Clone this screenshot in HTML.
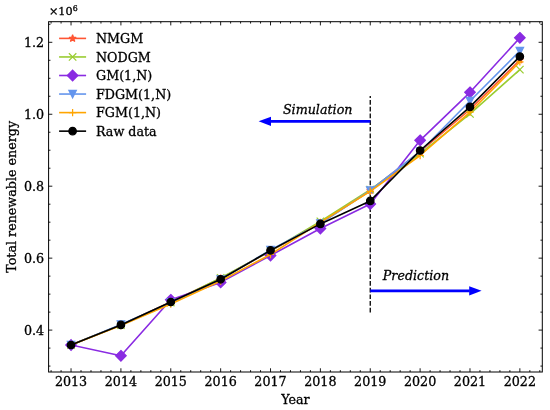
<!DOCTYPE html>
<html><head><meta charset="utf-8"><style>
html,body{margin:0;padding:0;background:#fff;}
body{width:550px;height:410px;overflow:hidden;}
svg{display:block;}
text{font-family:"DejaVu Serif","Liberation Serif",serif;stroke:#000;stroke-width:0.3px;}
</style></head><body>
<svg width="550" height="410" viewBox="0 0 550 410">
<rect width="550" height="410" fill="#ffffff"/>
<defs><clipPath id="ax"><rect x="48.6" y="21.7" width="493.7" height="350.3"/></clipPath></defs>
<path d="M370.25 312.5L370.25 95.9" stroke="#000" stroke-width="1.3" stroke-dasharray="4.68 2.02" fill="none"/>
<g clip-path="url(#ax)">
<polyline points="71.04,345 120.91,325 170.78,302 220.65,278.5 270.52,251 320.38,223 370.25,190.5 420.12,151.7 469.99,109.5 519.86,60" fill="none" stroke="#FF5533" stroke-width="1.6" stroke-linejoin="round" stroke-linecap="square"/>
<polygon points="71.04,341.28 70.21,343.85 67.5,343.85 69.69,345.44 68.85,348.01 71.04,346.42 73.23,348.01 72.39,345.44 74.58,343.85 71.88,343.85" fill="#FF5533" stroke="#FF5533" stroke-width="1.24" stroke-linejoin="bevel"/>
<polygon points="120.91,321.28 120.07,323.85 117.37,323.85 119.56,325.44 118.72,328.01 120.91,326.42 123.1,328.01 122.26,325.44 124.45,323.85 121.74,323.85" fill="#FF5533" stroke="#FF5533" stroke-width="1.24" stroke-linejoin="bevel"/>
<polygon points="170.78,298.28 169.94,300.85 167.24,300.85 169.43,302.44 168.59,305.01 170.78,303.42 172.96,305.01 172.13,302.44 174.32,300.85 171.61,300.85" fill="#FF5533" stroke="#FF5533" stroke-width="1.24" stroke-linejoin="bevel"/>
<polygon points="220.65,274.78 219.81,277.35 217.11,277.35 219.3,278.94 218.46,281.51 220.65,279.92 222.83,281.51 222,278.94 224.18,277.35 221.48,277.35" fill="#FF5533" stroke="#FF5533" stroke-width="1.24" stroke-linejoin="bevel"/>
<polygon points="270.52,247.28 269.68,249.85 266.98,249.85 269.16,251.44 268.33,254.01 270.52,252.42 272.7,254.01 271.87,251.44 274.05,249.85 271.35,249.85" fill="#FF5533" stroke="#FF5533" stroke-width="1.24" stroke-linejoin="bevel"/>
<polygon points="320.38,219.28 319.55,221.85 316.85,221.85 319.03,223.44 318.2,226.01 320.38,224.42 322.57,226.01 321.74,223.44 323.92,221.85 321.22,221.85" fill="#FF5533" stroke="#FF5533" stroke-width="1.24" stroke-linejoin="bevel"/>
<polygon points="370.25,186.78 369.42,189.35 366.72,189.35 368.9,190.94 368.07,193.51 370.25,191.92 372.44,193.51 371.6,190.94 373.79,189.35 371.09,189.35" fill="#FF5533" stroke="#FF5533" stroke-width="1.24" stroke-linejoin="bevel"/>
<polygon points="420.12,147.98 419.29,150.55 416.58,150.55 418.77,152.14 417.94,154.71 420.12,153.12 422.31,154.71 421.47,152.14 423.66,150.55 420.96,150.55" fill="#FF5533" stroke="#FF5533" stroke-width="1.24" stroke-linejoin="bevel"/>
<polygon points="469.99,105.78 469.16,108.35 466.45,108.35 468.64,109.94 467.8,112.51 469.99,110.92 472.18,112.51 471.34,109.94 473.53,108.35 470.83,108.35" fill="#FF5533" stroke="#FF5533" stroke-width="1.24" stroke-linejoin="bevel"/>
<polygon points="519.86,56.28 519.02,58.85 516.32,58.85 518.51,60.44 517.67,63.01 519.86,61.42 522.05,63.01 521.21,60.44 523.4,58.85 520.69,58.85" fill="#FF5533" stroke="#FF5533" stroke-width="1.24" stroke-linejoin="bevel"/>
<polyline points="71.04,345 120.91,325 170.78,302.5 220.65,278 270.52,251 320.38,221.4 370.25,189.6 420.12,153.7 469.99,113.9 519.86,69.6" fill="none" stroke="#9ACD32" stroke-width="1.6" stroke-linejoin="round" stroke-linecap="square"/>
<path d="M67.32 341.28L74.76 348.72M67.32 348.72L74.76 341.28" stroke="#9ACD32" stroke-width="1.24" fill="none"/>
<path d="M117.19 321.28L124.63 328.72M117.19 328.72L124.63 321.28" stroke="#9ACD32" stroke-width="1.24" fill="none"/>
<path d="M167.06 298.78L174.5 306.22M167.06 306.22L174.5 298.78" stroke="#9ACD32" stroke-width="1.24" fill="none"/>
<path d="M216.93 274.28L224.37 281.72M216.93 281.72L224.37 274.28" stroke="#9ACD32" stroke-width="1.24" fill="none"/>
<path d="M266.8 247.28L274.24 254.72M266.8 254.72L274.24 247.28" stroke="#9ACD32" stroke-width="1.24" fill="none"/>
<path d="M316.66 217.68L324.1 225.12M316.66 225.12L324.1 217.68" stroke="#9ACD32" stroke-width="1.24" fill="none"/>
<path d="M366.53 185.88L373.97 193.32M366.53 193.32L373.97 185.88" stroke="#9ACD32" stroke-width="1.24" fill="none"/>
<path d="M416.4 149.98L423.84 157.42M416.4 157.42L423.84 149.98" stroke="#9ACD32" stroke-width="1.24" fill="none"/>
<path d="M466.27 110.18L473.71 117.62M466.27 117.62L473.71 110.18" stroke="#9ACD32" stroke-width="1.24" fill="none"/>
<path d="M516.14 65.88L523.58 73.32M516.14 73.32L523.58 65.88" stroke="#9ACD32" stroke-width="1.24" fill="none"/>
<polyline points="71.04,345 120.91,355.8 170.78,299.8 220.65,282.4 270.52,255.5 320.38,228.5 370.25,204 420.12,140.3 469.99,92.3 519.86,37.8" fill="none" stroke="#8A2BE2" stroke-width="1.6" stroke-linejoin="round" stroke-linecap="square"/>
<polygon points="71.04,339.74 76.3,345 71.04,350.26 65.78,345" fill="#8A2BE2" stroke="#8A2BE2" stroke-width="1.24" stroke-linejoin="miter"/>
<polygon points="120.91,350.54 126.17,355.8 120.91,361.06 115.65,355.8" fill="#8A2BE2" stroke="#8A2BE2" stroke-width="1.24" stroke-linejoin="miter"/>
<polygon points="170.78,294.54 176.04,299.8 170.78,305.06 165.52,299.8" fill="#8A2BE2" stroke="#8A2BE2" stroke-width="1.24" stroke-linejoin="miter"/>
<polygon points="220.65,277.14 225.91,282.4 220.65,287.66 215.39,282.4" fill="#8A2BE2" stroke="#8A2BE2" stroke-width="1.24" stroke-linejoin="miter"/>
<polygon points="270.52,250.24 275.78,255.5 270.52,260.76 265.25,255.5" fill="#8A2BE2" stroke="#8A2BE2" stroke-width="1.24" stroke-linejoin="miter"/>
<polygon points="320.38,223.24 325.65,228.5 320.38,233.76 315.12,228.5" fill="#8A2BE2" stroke="#8A2BE2" stroke-width="1.24" stroke-linejoin="miter"/>
<polygon points="370.25,198.74 375.51,204 370.25,209.26 364.99,204" fill="#8A2BE2" stroke="#8A2BE2" stroke-width="1.24" stroke-linejoin="miter"/>
<polygon points="420.12,135.04 425.38,140.3 420.12,145.56 414.86,140.3" fill="#8A2BE2" stroke="#8A2BE2" stroke-width="1.24" stroke-linejoin="miter"/>
<polygon points="469.99,87.04 475.25,92.3 469.99,97.56 464.73,92.3" fill="#8A2BE2" stroke="#8A2BE2" stroke-width="1.24" stroke-linejoin="miter"/>
<polygon points="519.86,32.54 525.12,37.8 519.86,43.06 514.6,37.8" fill="#8A2BE2" stroke="#8A2BE2" stroke-width="1.24" stroke-linejoin="miter"/>
<polyline points="71.04,345 120.91,324.5 170.78,302.5 220.65,279.5 270.52,250 320.38,223.5 370.25,190.5 420.12,151.5 469.99,101 519.86,51" fill="none" stroke="#6495ED" stroke-width="1.6" stroke-linejoin="round" stroke-linecap="square"/>
<polygon points="67.32,341.28 74.76,341.28 71.04,348.72" fill="#6495ED" stroke="#6495ED" stroke-width="1.24" stroke-linejoin="miter"/>
<polygon points="117.19,320.78 124.63,320.78 120.91,328.22" fill="#6495ED" stroke="#6495ED" stroke-width="1.24" stroke-linejoin="miter"/>
<polygon points="167.06,298.78 174.5,298.78 170.78,306.22" fill="#6495ED" stroke="#6495ED" stroke-width="1.24" stroke-linejoin="miter"/>
<polygon points="216.93,275.78 224.37,275.78 220.65,283.22" fill="#6495ED" stroke="#6495ED" stroke-width="1.24" stroke-linejoin="miter"/>
<polygon points="266.8,246.28 274.24,246.28 270.52,253.72" fill="#6495ED" stroke="#6495ED" stroke-width="1.24" stroke-linejoin="miter"/>
<polygon points="316.66,219.78 324.1,219.78 320.38,227.22" fill="#6495ED" stroke="#6495ED" stroke-width="1.24" stroke-linejoin="miter"/>
<polygon points="366.53,186.78 373.97,186.78 370.25,194.22" fill="#6495ED" stroke="#6495ED" stroke-width="1.24" stroke-linejoin="miter"/>
<polygon points="416.4,147.78 423.84,147.78 420.12,155.22" fill="#6495ED" stroke="#6495ED" stroke-width="1.24" stroke-linejoin="miter"/>
<polygon points="466.27,97.28 473.71,97.28 469.99,104.72" fill="#6495ED" stroke="#6495ED" stroke-width="1.24" stroke-linejoin="miter"/>
<polygon points="516.14,47.28 523.58,47.28 519.86,54.72" fill="#6495ED" stroke="#6495ED" stroke-width="1.24" stroke-linejoin="miter"/>
<polyline points="71.04,345 120.91,325.5 170.78,304 220.65,281 270.52,254.5 320.38,222.4 370.25,191.3 420.12,155.5 469.99,112.2 519.86,61.8" fill="none" stroke="#FFA500" stroke-width="1.6" stroke-linejoin="round" stroke-linecap="square"/>
<path d="M67.32 345L74.76 345M71.04 341.28L71.04 348.72" stroke="#FFA500" stroke-width="1.24" fill="none"/>
<path d="M117.19 325.5L124.63 325.5M120.91 321.78L120.91 329.22" stroke="#FFA500" stroke-width="1.24" fill="none"/>
<path d="M167.06 304L174.5 304M170.78 300.28L170.78 307.72" stroke="#FFA500" stroke-width="1.24" fill="none"/>
<path d="M216.93 281L224.37 281M220.65 277.28L220.65 284.72" stroke="#FFA500" stroke-width="1.24" fill="none"/>
<path d="M266.8 254.5L274.24 254.5M270.52 250.78L270.52 258.22" stroke="#FFA500" stroke-width="1.24" fill="none"/>
<path d="M316.66 222.4L324.1 222.4M320.38 218.68L320.38 226.12" stroke="#FFA500" stroke-width="1.24" fill="none"/>
<path d="M366.53 191.3L373.97 191.3M370.25 187.58L370.25 195.02" stroke="#FFA500" stroke-width="1.24" fill="none"/>
<path d="M416.4 155.5L423.84 155.5M420.12 151.78L420.12 159.22" stroke="#FFA500" stroke-width="1.24" fill="none"/>
<path d="M466.27 112.2L473.71 112.2M469.99 108.48L469.99 115.92" stroke="#FFA500" stroke-width="1.24" fill="none"/>
<path d="M516.14 61.8L523.58 61.8M519.86 58.08L519.86 65.52" stroke="#FFA500" stroke-width="1.24" fill="none"/>
<polyline points="71.04,345 120.91,324.9 170.78,302 220.65,279.3 270.52,250.4 320.38,223.9 370.25,200.9 420.12,150.5 469.99,106.9 519.86,56.5" fill="none" stroke="#000000" stroke-width="1.6" stroke-linejoin="round" stroke-linecap="square"/>
<circle cx="71.04" cy="345" r="3.72" fill="#000000" stroke="#000000" stroke-width="1.24"/>
<circle cx="120.91" cy="324.9" r="3.72" fill="#000000" stroke="#000000" stroke-width="1.24"/>
<circle cx="170.78" cy="302" r="3.72" fill="#000000" stroke="#000000" stroke-width="1.24"/>
<circle cx="220.65" cy="279.3" r="3.72" fill="#000000" stroke="#000000" stroke-width="1.24"/>
<circle cx="270.52" cy="250.4" r="3.72" fill="#000000" stroke="#000000" stroke-width="1.24"/>
<circle cx="320.38" cy="223.9" r="3.72" fill="#000000" stroke="#000000" stroke-width="1.24"/>
<circle cx="370.25" cy="200.9" r="3.72" fill="#000000" stroke="#000000" stroke-width="1.24"/>
<circle cx="420.12" cy="150.5" r="3.72" fill="#000000" stroke="#000000" stroke-width="1.24"/>
<circle cx="469.99" cy="106.9" r="3.72" fill="#000000" stroke="#000000" stroke-width="1.24"/>
<circle cx="519.86" cy="56.5" r="3.72" fill="#000000" stroke="#000000" stroke-width="1.24"/>
</g>
<path d="M370.25 121.35L270.5 121.35" stroke="#0000FF" stroke-width="2.7" fill="none"/><polygon points="258.6,121.35 271,116.65 271,126.05" fill="#0000FF"/>
<path d="M370.25 290.85L469.7 290.85" stroke="#0000FF" stroke-width="2.7" fill="none"/><polygon points="481.6,290.85 469.2,286.15 469.2,295.55" fill="#0000FF"/>
<text x="317.7" y="114.1" font-family="DejaVu Serif" font-style="italic" font-size="12.7" text-anchor="middle">Simulation</text>
<text x="416" y="279.7" font-family="DejaVu Serif" font-style="italic" font-size="12.7" text-anchor="middle">Prediction</text>
<rect x="48.6" y="21.7" width="493.7" height="350.3" fill="none" stroke="#000" stroke-width="1"/>
<path d="M51.09 372v-1.86M51.09 21.7v1.86M61.07 372v-1.86M61.07 21.7v1.86M71.04 372v-3.72M71.04 21.7v3.72M81.01 372v-1.86M81.01 21.7v1.86M90.99 372v-1.86M90.99 21.7v1.86M100.96 372v-1.86M100.96 21.7v1.86M110.94 372v-1.86M110.94 21.7v1.86M120.91 372v-3.72M120.91 21.7v3.72M130.88 372v-1.86M130.88 21.7v1.86M140.86 372v-1.86M140.86 21.7v1.86M150.83 372v-1.86M150.83 21.7v1.86M160.8 372v-1.86M160.8 21.7v1.86M170.78 372v-3.72M170.78 21.7v3.72M180.75 372v-1.86M180.75 21.7v1.86M190.73 372v-1.86M190.73 21.7v1.86M200.7 372v-1.86M200.7 21.7v1.86M210.67 372v-1.86M210.67 21.7v1.86M220.65 372v-3.72M220.65 21.7v3.72M230.62 372v-1.86M230.62 21.7v1.86M240.59 372v-1.86M240.59 21.7v1.86M250.57 372v-1.86M250.57 21.7v1.86M260.54 372v-1.86M260.54 21.7v1.86M270.52 372v-3.72M270.52 21.7v3.72M280.49 372v-1.86M280.49 21.7v1.86M290.46 372v-1.86M290.46 21.7v1.86M300.44 372v-1.86M300.44 21.7v1.86M310.41 372v-1.86M310.41 21.7v1.86M320.38 372v-3.72M320.38 21.7v3.72M330.36 372v-1.86M330.36 21.7v1.86M340.33 372v-1.86M340.33 21.7v1.86M350.31 372v-1.86M350.31 21.7v1.86M360.28 372v-1.86M360.28 21.7v1.86M370.25 372v-3.72M370.25 21.7v3.72M380.23 372v-1.86M380.23 21.7v1.86M390.2 372v-1.86M390.2 21.7v1.86M400.17 372v-1.86M400.17 21.7v1.86M410.15 372v-1.86M410.15 21.7v1.86M420.12 372v-3.72M420.12 21.7v3.72M430.1 372v-1.86M430.1 21.7v1.86M440.07 372v-1.86M440.07 21.7v1.86M450.04 372v-1.86M450.04 21.7v1.86M460.02 372v-1.86M460.02 21.7v1.86M469.99 372v-3.72M469.99 21.7v3.72M479.96 372v-1.86M479.96 21.7v1.86M489.94 372v-1.86M489.94 21.7v1.86M499.91 372v-1.86M499.91 21.7v1.86M509.89 372v-1.86M509.89 21.7v1.86M519.86 372v-3.72M519.86 21.7v3.72M529.83 372v-1.86M529.83 21.7v1.86M539.81 372v-1.86M539.81 21.7v1.86M48.6 366.08h1.86M542.3 366.08h-1.86M48.6 348.09h1.86M542.3 348.09h-1.86M48.6 330.1h3.72M542.3 330.1h-3.72M48.6 312.11h1.86M542.3 312.11h-1.86M48.6 294.13h1.86M542.3 294.13h-1.86M48.6 276.14h1.86M542.3 276.14h-1.86M48.6 258.15h3.72M542.3 258.15h-3.72M48.6 240.16h1.86M542.3 240.16h-1.86M48.6 222.18h1.86M542.3 222.18h-1.86M48.6 204.19h1.86M542.3 204.19h-1.86M48.6 186.2h3.72M542.3 186.2h-3.72M48.6 168.21h1.86M542.3 168.21h-1.86M48.6 150.23h1.86M542.3 150.23h-1.86M48.6 132.24h1.86M542.3 132.24h-1.86M48.6 114.25h3.72M542.3 114.25h-3.72M48.6 96.26h1.86M542.3 96.26h-1.86M48.6 78.27h1.86M542.3 78.27h-1.86M48.6 60.29h1.86M542.3 60.29h-1.86M48.6 42.3h3.72M542.3 42.3h-3.72M48.6 24.31h1.86M542.3 24.31h-1.86" stroke="#000" stroke-width="0.9" fill="none"/>
<g font-family="DejaVu Serif" font-size="12.7" fill="#000">
<text x="71.04" y="386.4" text-anchor="middle">2013</text>
<text x="120.91" y="386.4" text-anchor="middle">2014</text>
<text x="170.78" y="386.4" text-anchor="middle">2015</text>
<text x="220.65" y="386.4" text-anchor="middle">2016</text>
<text x="270.52" y="386.4" text-anchor="middle">2017</text>
<text x="320.38" y="386.4" text-anchor="middle">2018</text>
<text x="370.25" y="386.4" text-anchor="middle">2019</text>
<text x="420.12" y="386.4" text-anchor="middle">2020</text>
<text x="469.99" y="386.4" text-anchor="middle">2021</text>
<text x="519.86" y="386.4" text-anchor="middle">2022</text>
<text x="44.2" y="334.6" text-anchor="end">0.4</text>
<text x="44.2" y="262.65" text-anchor="end">0.6</text>
<text x="44.2" y="190.7" text-anchor="end">0.8</text>
<text x="44.2" y="118.75" text-anchor="end">1.0</text>
<text x="44.2" y="46.8" text-anchor="end">1.2</text>
<text x="49.0" y="15.3" font-size="11.2">×10<tspan font-size="7.8" dy="-4.0">6</tspan></text>
<text x="295.45" y="403.6" text-anchor="middle">Year</text>
<text transform="translate(15.9 196.85) rotate(-90)" text-anchor="middle">Total renewable energy</text>
</g>
<path d="M59.9 38.4L85.3 38.4" stroke="#FF5533" stroke-width="1.6" stroke-linecap="square"/>
<polygon points="72.6,34.68 71.76,37.25 69.06,37.25 71.25,38.84 70.41,41.41 72.6,39.82 74.79,41.41 73.95,38.84 76.14,37.25 73.44,37.25" fill="#FF5533" stroke="#FF5533" stroke-width="1.24" stroke-linejoin="bevel"/>
<text x="96" y="43.1" font-family="DejaVu Serif" font-size="12.7">NMGM</text>
<path d="M59.9 56.95L85.3 56.95" stroke="#9ACD32" stroke-width="1.6" stroke-linecap="square"/>
<path d="M68.88 53.23L76.32 60.67M68.88 60.67L76.32 53.23" stroke="#9ACD32" stroke-width="1.24" fill="none"/>
<text x="96" y="61.65" font-family="DejaVu Serif" font-size="12.7">NODGM</text>
<path d="M59.9 75.5L85.3 75.5" stroke="#8A2BE2" stroke-width="1.6" stroke-linecap="square"/>
<polygon points="72.6,70.24 77.86,75.5 72.6,80.76 67.34,75.5" fill="#8A2BE2" stroke="#8A2BE2" stroke-width="1.24" stroke-linejoin="miter"/>
<text x="96" y="80.2" font-family="DejaVu Serif" font-size="12.7">GM(1,N)</text>
<path d="M59.9 94.05L85.3 94.05" stroke="#6495ED" stroke-width="1.6" stroke-linecap="square"/>
<polygon points="68.88,90.33 76.32,90.33 72.6,97.77" fill="#6495ED" stroke="#6495ED" stroke-width="1.24" stroke-linejoin="miter"/>
<text x="96" y="98.75" font-family="DejaVu Serif" font-size="12.7">FDGM(1,N)</text>
<path d="M59.9 112.6L85.3 112.6" stroke="#FFA500" stroke-width="1.6" stroke-linecap="square"/>
<path d="M68.88 112.6L76.32 112.6M72.6 108.88L72.6 116.32" stroke="#FFA500" stroke-width="1.24" fill="none"/>
<text x="96" y="117.3" font-family="DejaVu Serif" font-size="12.7">FGM(1,N)</text>
<path d="M59.9 131.15L85.3 131.15" stroke="#000000" stroke-width="1.6" stroke-linecap="square"/>
<circle cx="72.6" cy="131.15" r="3.72" fill="#000000" stroke="#000000" stroke-width="1.24"/>
<text x="96" y="135.85" font-family="DejaVu Serif" font-size="12.7">Raw data</text>
</svg>
</body></html>
